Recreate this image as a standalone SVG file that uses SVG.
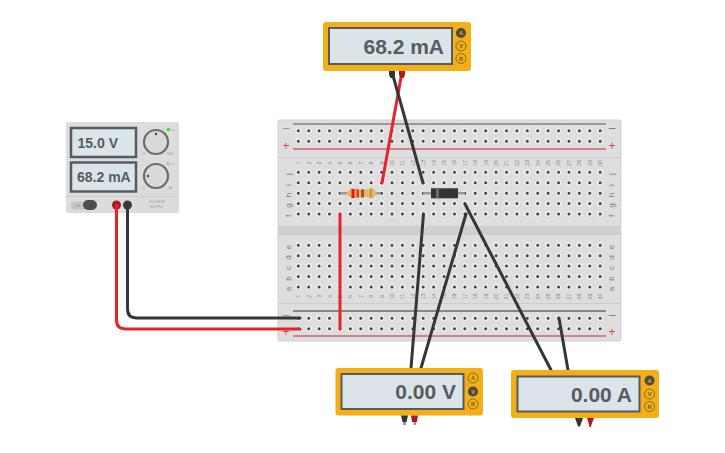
<svg xmlns="http://www.w3.org/2000/svg" width="725" height="453" viewBox="0 0 725 453">
<style>
text{font-family:"Liberation Sans",Arial,sans-serif}
.halo{stroke:#ececec;stroke-width:6;stroke-linecap:round;stroke-dasharray:0 10.41;fill:none}
.hole{stroke:#444;stroke-width:3;stroke-linecap:round;stroke-dasharray:0 10.41;fill:none}
.n{font-size:5.5px;fill:#8a8a8a;text-anchor:middle}
.l{font-size:8px;fill:#7a7a7a;text-anchor:middle}
.sign{font-size:12px;text-anchor:middle}
.w{fill:none;stroke-linecap:round;stroke-linejoin:round}
.blk{stroke:#333739;stroke-width:3}
.red{stroke:#e5242a;stroke-width:3}
.body{fill:#f4ae18}
.scr{fill:#dbe4e8;stroke:#565c5e;stroke-width:2}
.psc{fill:#dbe4e8;stroke:#565c5e;stroke-width:2.500}
.val{font-size:21px;font-weight:bold;fill:#565c60;text-anchor:end}
.psv{font-size:14px;font-weight:bold;fill:#565c60}
.b{fill:none;stroke:#6b5a20;stroke-width:.8}
.bo{fill:#4a4a44}
.bt{font-size:5.5px;font-weight:bold;text-anchor:middle;fill:#6b5a20}
.bw{font-size:5.5px;font-weight:bold;text-anchor:middle;fill:#f4ae18}
.pr{fill:#a61c20}.pb{fill:#333}.tip{fill:#999}
.knob{fill:#dadada;stroke:#6a6d6e;stroke-width:2.200}
.t{font-size:3.500px;fill:#999}
</style>
<defs>
<g id="holes">
<path class="halo" d="M298.300 0H604"/>
<path class="hole" d="M298.300 0H604"/>
</g>
</defs>
<g id="breadboard">
<rect x="278" y="120" width="343" height="221" rx="2" fill="#dedede" stroke="#d0d0d0"/>
<rect x="278.500" y="226" width="342" height="9" fill="#cfcfcf"/>
<path d="M278.500 157.500H620.500M278.500 303.500H620.500" stroke="#cdcdcd" fill="none"/>
<path d="M293 124H606" stroke="#555" stroke-width="1"/>
<path d="M293 149H606" stroke="#c9272b" stroke-width="1"/>
<path d="M293 311H606" stroke="#333" stroke-width="1"/>
<path d="M293 336H606" stroke="#c9272b" stroke-width="1"/>
<use href="#holes" y="130.700"/><use href="#holes" y="141.200"/>
<use href="#holes" y="172.300"/><use href="#holes" y="182.800"/><use href="#holes" y="193.200"/><use href="#holes" y="203.600"/><use href="#holes" y="214"/>
<use href="#holes" y="245.300"/><use href="#holes" y="255.700"/><use href="#holes" y="266"/><use href="#holes" y="276.400"/><use href="#holes" y="287"/>
<use href="#holes" y="318.300"/><use href="#holes" y="328.700"/>
<g>
<text class="sign" x="286" y="132" fill="#999">–</text><text class="sign" x="286" y="150" fill="#d43">+</text>
<text class="sign" x="612" y="132" fill="#777">–</text><text class="sign" x="612" y="150" fill="#d43">+</text>
<text class="sign" x="286" y="319" fill="#999">–</text><text class="sign" x="286" y="336" fill="#d43">+</text>
<text class="sign" x="612" y="319" fill="#777">–</text><text class="sign" x="612" y="336" fill="#d43">+</text>
</g>
<g>
<text class="l" transform="translate(291,174) rotate(-90)">j</text><text class="l" transform="translate(291,185) rotate(-90)">i</text><text class="l" transform="translate(291,195) rotate(-90)">h</text><text class="l" transform="translate(291,205.500) rotate(-90)">g</text><text class="l" transform="translate(291,216) rotate(-90)">f</text>
<text class="l" transform="translate(291,247) rotate(-90)">e</text><text class="l" transform="translate(291,257.500) rotate(-90)">d</text><text class="l" transform="translate(291,268) rotate(-90)">c</text><text class="l" transform="translate(291,278.500) rotate(-90)">b</text><text class="l" transform="translate(291,289) rotate(-90)">a</text>
<text class="l" transform="translate(614,174) rotate(-90)">j</text><text class="l" transform="translate(614,185) rotate(-90)">i</text><text class="l" transform="translate(614,195) rotate(-90)">h</text><text class="l" transform="translate(614,205.500) rotate(-90)">g</text><text class="l" transform="translate(614,216) rotate(-90)">f</text>
<text class="l" transform="translate(614,247) rotate(-90)">e</text><text class="l" transform="translate(614,257.500) rotate(-90)">d</text><text class="l" transform="translate(614,268) rotate(-90)">c</text><text class="l" transform="translate(614,278.500) rotate(-90)">b</text><text class="l" transform="translate(614,289) rotate(-90)">a</text>
</g>
<g>
<text class="n" transform="translate(300.300,163) rotate(-90)">1</text><text class="n" transform="translate(310.700,163) rotate(-90)">2</text><text class="n" transform="translate(321.100,163) rotate(-90)">3</text><text class="n" transform="translate(331.500,163) rotate(-90)">4</text><text class="n" transform="translate(341.900,163) rotate(-90)">5</text><text class="n" transform="translate(352.300,163) rotate(-90)">6</text><text class="n" transform="translate(362.700,163) rotate(-90)">7</text><text class="n" transform="translate(373.100,163) rotate(-90)">8</text><text class="n" transform="translate(383.500,163) rotate(-90)">9</text><text class="n" transform="translate(393.900,163) rotate(-90)">10</text><text class="n" transform="translate(404.300,163) rotate(-90)">11</text><text class="n" transform="translate(414.700,163) rotate(-90)">12</text><text class="n" transform="translate(425.100,163) rotate(-90)">13</text><text class="n" transform="translate(435.500,163) rotate(-90)">14</text><text class="n" transform="translate(445.900,163) rotate(-90)">15</text><text class="n" transform="translate(456.300,163) rotate(-90)">16</text><text class="n" transform="translate(466.700,163) rotate(-90)">17</text><text class="n" transform="translate(477.100,163) rotate(-90)">18</text><text class="n" transform="translate(487.500,163) rotate(-90)">19</text><text class="n" transform="translate(497.900,163) rotate(-90)">20</text><text class="n" transform="translate(508.300,163) rotate(-90)">21</text><text class="n" transform="translate(518.700,163) rotate(-90)">22</text><text class="n" transform="translate(529.100,163) rotate(-90)">23</text><text class="n" transform="translate(539.500,163) rotate(-90)">24</text><text class="n" transform="translate(549.900,163) rotate(-90)">25</text><text class="n" transform="translate(560.300,163) rotate(-90)">26</text><text class="n" transform="translate(570.700,163) rotate(-90)">27</text><text class="n" transform="translate(581.100,163) rotate(-90)">28</text><text class="n" transform="translate(591.500,163) rotate(-90)">29</text><text class="n" transform="translate(601.900,163) rotate(-90)">30</text>
<text class="n" transform="translate(300.300,296.500) rotate(-90)">1</text><text class="n" transform="translate(310.700,296.500) rotate(-90)">2</text><text class="n" transform="translate(321.100,296.500) rotate(-90)">3</text><text class="n" transform="translate(331.500,296.500) rotate(-90)">4</text><text class="n" transform="translate(341.900,296.500) rotate(-90)">5</text><text class="n" transform="translate(352.300,296.500) rotate(-90)">6</text><text class="n" transform="translate(362.700,296.500) rotate(-90)">7</text><text class="n" transform="translate(373.100,296.500) rotate(-90)">8</text><text class="n" transform="translate(383.500,296.500) rotate(-90)">9</text><text class="n" transform="translate(393.900,296.500) rotate(-90)">10</text><text class="n" transform="translate(404.300,296.500) rotate(-90)">11</text><text class="n" transform="translate(414.700,296.500) rotate(-90)">12</text><text class="n" transform="translate(425.100,296.500) rotate(-90)">13</text><text class="n" transform="translate(435.500,296.500) rotate(-90)">14</text><text class="n" transform="translate(445.900,296.500) rotate(-90)">15</text><text class="n" transform="translate(456.300,296.500) rotate(-90)">16</text><text class="n" transform="translate(466.700,296.500) rotate(-90)">17</text><text class="n" transform="translate(477.100,296.500) rotate(-90)">18</text><text class="n" transform="translate(487.500,296.500) rotate(-90)">19</text><text class="n" transform="translate(497.900,296.500) rotate(-90)">20</text><text class="n" transform="translate(508.300,296.500) rotate(-90)">21</text><text class="n" transform="translate(518.700,296.500) rotate(-90)">22</text><text class="n" transform="translate(529.100,296.500) rotate(-90)">23</text><text class="n" transform="translate(539.500,296.500) rotate(-90)">24</text><text class="n" transform="translate(549.900,296.500) rotate(-90)">25</text><text class="n" transform="translate(560.300,296.500) rotate(-90)">26</text><text class="n" transform="translate(570.700,296.500) rotate(-90)">27</text><text class="n" transform="translate(581.100,296.500) rotate(-90)">28</text><text class="n" transform="translate(591.500,296.500) rotate(-90)">29</text><text class="n" transform="translate(601.900,296.500) rotate(-90)">30</text>
</g>
</g>
<g id="resistor">
<path d="M340 193.300H381" stroke="#9a9a9a" stroke-width="2.500" fill="none"/>
<path d="M346 193.300L351 188.500H357L359 189.500H368L370 188.500H373L377 193.300L373 198H370L368 197H359L357 198H351Z" fill="#e6b769"/>
<rect x="351.500" y="189" width="3" height="9" fill="#f01010"/><rect x="356.500" y="189.500" width="2.500" height="8" fill="#e8322a"/><rect x="361" y="189.500" width="3" height="8" fill="#96591e"/><rect x="370" y="188.500" width="1.500" height="9.500" fill="#a8912a"/>
</g>
<g id="diode">
<path d="M423 193.300H465" stroke="#9a9a9a" stroke-width="2.500" fill="none"/>
<rect x="431" y="188.300" width="27" height="10" fill="#333"/><rect x="436" y="188.300" width="3" height="10" fill="#5f6d75"/>
</g>
<g id="connectors">
<path class="w red" d="M116.500 205V320Q116.500 329 126 329H300"/>
<path class="w blk" d="M127.500 205V309Q127.500 318 137 318H300"/>
<path class="w red" d="M340 214V329"/>
<path class="w red" d="M402 72L382 183"/>
<path class="w blk" d="M392 72L423 183"/>
<path class="w blk" d="M423.500 214L411 368"/>
<path class="w blk" d="M466 214L421 368"/>
<path class="w blk" d="M465 204L551 370"/>
<path class="w blk" d="M559 318L568 370"/>
</g>
<g id="power-supply">
<rect x="66" y="122" width="113" height="91" rx="2" fill="#dcdcdc"/>
<path d="M66 196.500H179" stroke="#cfcfcf"/>
<rect x="71" y="128" width="65" height="29" class="psc"/>
<rect x="71" y="162.500" width="65" height="29" class="psc"/>
<text class="psv" x="77.500" y="147.500">15.0 V</text>
<text class="psv" x="77" y="182">68.2 mA</text>
<circle cx="156" cy="142" r="12" class="knob"/><circle cx="156" cy="176" r="12" class="knob"/>
<circle cx="156" cy="134" r="1.200" fill="#444"/><circle cx="148" cy="176" r="1.200" fill="#444"/>
<circle cx="168.500" cy="129.500" r="1.700" fill="#35e035"/>
<circle cx="168.500" cy="163.500" r="1.500" fill="#ccc" stroke="#999" stroke-width=".5"/>
<text class="t" x="171.500" y="131">cc</text><text class="t" x="171.500" y="165">cc</text>
<text class="t" x="143" y="155">0</text><text class="t" x="167" y="155">50V</text><text class="t" x="143" y="189">0</text><text class="t" x="168" y="189">5A</text>
<rect x="71" y="201.500" width="20" height="8" rx="4" fill="#c4c4c4"/>
<rect x="83" y="200" width="14" height="10" rx="5" fill="#4c5052"/>
<text class="t" x="75" y="206.500">ON</text>
<circle cx="116.500" cy="205" r="4.500" fill="#a81c20"/><circle cx="127.500" cy="205" r="4.500" fill="#3a3d3f"/>
<path class="w" d="M116.500 205V213" stroke="#e5242a" stroke-width="3"/>
<path class="w" d="M127.500 205V213" stroke="#333739" stroke-width="3"/>
<text class="t" x="149" y="203">VOLTAGE</text><text class="t" x="150" y="208">SUPPLY</text>
</g>
<g id="ammeter-top">
<rect x="323" y="22" width="148" height="49" rx="3" class="body"/>
<rect x="329" y="28" width="123" height="36" class="scr"/>
<text class="val" x="444" y="53.500">68.2 mA</text>
<circle cx="461" cy="33" r="5" class="bo"/><text class="bw" x="461" y="35">A</text>
<circle cx="461" cy="46" r="5" class="b"/><text class="bt" x="461" y="48">V</text>
<circle cx="461" cy="58.500" r="5" class="b"/><text class="bt" x="461" y="60.500">R</text>
<path class="pb" d="M389 71H395V75L393.500 78H390.500L389 75Z"/><path class="pr" d="M399 71H405V75L403.500 78H400.500L399 75Z"/>
</g>
<g id="voltmeter">
<rect x="335.500" y="368" width="147.500" height="47.500" rx="3" class="body"/>
<rect x="341.500" y="374" width="122" height="35" class="scr"/>
<text class="val" x="456" y="399">0.00 V</text>
<circle cx="473" cy="378" r="5" class="b"/><text class="bt" x="473" y="380">A</text>
<circle cx="473" cy="391.500" r="5" class="bo"/><text class="bw" x="473" y="393.500">V</text>
<circle cx="473" cy="404" r="5" class="b"/><text class="bt" x="473" y="406">R</text>
<rect class="tip" x="403" y="420" width="3" height="5"/><rect class="tip" x="413.500" y="420" width="2.500" height="5"/>
<path class="pb" d="M401 415.500H408L406.500 422H402.500Z"/><path class="pr" d="M411 415.500H418L417 422H412Z"/>
</g>
<g id="ammeter-bottom">
<rect x="511" y="370" width="148" height="48" rx="3" class="body"/>
<rect x="517.500" y="376.500" width="122" height="35" class="scr"/>
<text class="val" x="632" y="402">0.00 A</text>
<circle cx="649.500" cy="380.500" r="5" class="bo"/><text class="bw" x="649.500" y="382.500">A</text>
<circle cx="649.500" cy="394" r="5" class="b"/><text class="bt" x="649.500" y="396">V</text>
<circle cx="649.500" cy="406.500" r="5" class="b"/><text class="bt" x="649.500" y="408.500">R</text>
<path class="pb" d="M575 418H583L580 426.500H578Z"/><path class="pr" d="M587 418H594L591.500 424.500L591 427H589.500L589 424.500Z"/>
</g>
</svg>
